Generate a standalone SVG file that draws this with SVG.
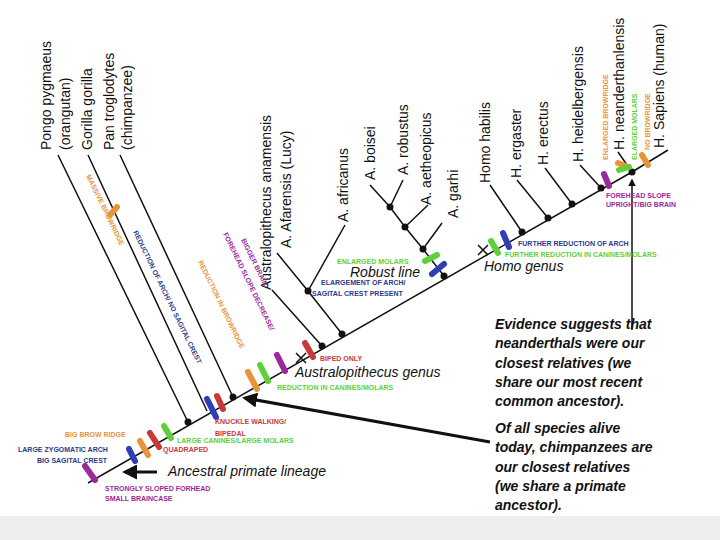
<svg xmlns="http://www.w3.org/2000/svg" width="720" height="540" viewBox="0 0 720 540">
<style>
.sp{font-family:"Liberation Sans",Arial,sans-serif;font-size:14px;fill:#111}
.it{font-family:"Liberation Sans",Arial,sans-serif;font-style:italic;font-size:14px;fill:#111}
.bi{font-family:"Liberation Sans",Arial,sans-serif;font-style:italic;font-weight:bold;font-size:14px;fill:#111}
.sm{font-family:"Liberation Sans",Arial,sans-serif;font-weight:bold;font-size:7px}
.ln{stroke:#111;stroke-width:1.5;fill:none}
.mk{stroke-width:6;stroke-linecap:round;fill:none}
.o{fill:#e8943a}.g{fill:#5fcf3a}.b{fill:#2d3fb8}.r{fill:#c83a3a}.p{fill:#9a2a9a}.n{fill:#2a3a8a}
.so{stroke:#e8943a}.sg{stroke:#5fcf3a}.sb{stroke:#2d3fb8}.sr{stroke:#c83a3a}.spp{stroke:#9a2a9a}
.nd{fill:#111}
</style>
<defs><marker id="ah" viewBox="0 0 10 10" refX="8" refY="5" markerWidth="5" markerHeight="5" orient="auto"><path d="M0,0L10,5L0,10z" fill="#111"/></marker></defs>
<rect width="720" height="540" fill="#fff"/>
<rect x="0" y="516" width="720" height="24" fill="#eceef0"/>
<g id="connectors">
<path class="ln" d="M88,483L632,172"/>
<path class="ln" d="M188,422L58,155M207,411L88,155M233,397L120,155"/>
<path class="ln" d="M322,346L272,290M342,334L308,291L277,253M308,291L345,225"/>
<path class="ln" d="M444,276L423,249L442,223M423,249L405,227L428,205M405,227L390,207L370,185M390,207L403,180"/>
<path class="ln" d="M522,232L490,185M548,218L517,180M572,204L545,168M601,188L580,165M632,172L618,152M632,172L668,150"/>
<path class="ln" d="M632,330L632,180" marker-end="url(#ah)"/>
<path d="M490,442L245,398" stroke="#111" stroke-width="3" marker-end="url(#ah)"/>
<path d="M157,472L125,472" stroke="#111" stroke-width="3" marker-end="url(#ah)"/>
<path class="ln" d="M296,353l10,10M306,353l-10,10M478,245l10,10M488,245l-10,10"/>
</g>
<g id="nodes">
<circle class="nd" cx="188" cy="422" r="3.5"/><circle class="nd" cx="233" cy="397" r="3.5"/>
<circle class="nd" cx="322" cy="346" r="3.5"/><circle class="nd" cx="342" cy="334" r="3.5"/>
<circle class="nd" cx="308" cy="291" r="3.5"/><circle class="nd" cx="444" cy="276" r="3.5"/>
<circle class="nd" cx="423" cy="249" r="3.5"/><circle class="nd" cx="405" cy="227" r="3.5"/>
<circle class="nd" cx="390" cy="207" r="3.5"/><circle class="nd" cx="522" cy="232" r="3.5"/>
<circle class="nd" cx="548" cy="218" r="3.5"/><circle class="nd" cx="572" cy="204" r="3.5"/>
<circle class="nd" cx="601" cy="188" r="3.5"/><circle class="nd" cx="632" cy="172" r="3.5"/>
</g>
<g id="marks">
<path class="mk spp" d="M85,466l10,14"/><path class="mk sb" d="M129,449l6,12"/><path class="mk so" d="M140,441l8,14"/>
<path class="mk sr" d="M150,433l9,14"/><path class="mk sg" d="M164,426l7,12"/><path class="mk sb" d="M207,399l9,18"/>
<path class="mk sr" d="M217,396l6,13"/><path class="mk so" d="M248,372l9,17"/><path class="mk sg" d="M260,365l8,16"/>
<path class="mk spp" d="M277,355l8,16"/><path class="mk sr" d="M305,343l8,14"/><path class="mk so" d="M110,215l7,-8"/>
<path class="mk sg" d="M425,261l12,-6"/><path class="mk sb" d="M432,274l12,-10"/><path class="mk sg" d="M491,241l7,12"/>
<path class="mk sb" d="M503,233l6,14"/><path class="mk spp" d="M604,174l5,12"/><path class="mk so" d="M618,163l10,4"/>
<path class="mk sg" d="M619,170l10,-3"/><path class="mk so" d="M642,155l6,10"/>
</g>
<g id="labels">
<text class="sp" transform="translate(51,150) rotate(-90)">Pongo pygmaeus</text>
<text class="sp" transform="translate(70,150) rotate(-90)">(orangutan)</text>
<text class="sp" transform="translate(92,150) rotate(-90)">Gorilla gorilla</text>
<text class="sp" transform="translate(114,150) rotate(-90)">Pan troglodytes</text>
<text class="sp" transform="translate(132,150) rotate(-90)">(chimpanzee)</text>
<text class="sp" transform="translate(271,290) rotate(-90)">Australopithecus anamensis</text>
<text class="sp" transform="translate(291,248) rotate(-90)">A. Afarensis (Lucy)</text>
<text class="sp" transform="translate(348,222) rotate(-90)">A. africanus</text>
<text class="sp" transform="translate(375,180) rotate(-90)">A. boisei</text>
<text class="sp" transform="translate(408,175) rotate(-90)">A. robustus</text>
<text class="sp" transform="translate(431,205) rotate(-90)">A. aetheopicus</text>
<text class="sp" transform="translate(458,218) rotate(-90)">A. garhi</text>
<text class="sp" transform="translate(490,183) rotate(-90)">Homo habilis</text>
<text class="sp" transform="translate(521,178) rotate(-90)">H. ergaster</text>
<text class="sp" transform="translate(548,165) rotate(-90)">H. erectus</text>
<text class="sp" transform="translate(583,162) rotate(-90)">H. heidelbergensis</text>
<text class="sp" transform="translate(624,150) rotate(-90)">H. neanderthanlensis</text>
<text class="sp" transform="translate(664,148) rotate(-90)">H. Sapiens (human)</text>
<text class="sm o" transform="translate(608,160) rotate(-90)">ENLARGED BROWRIDGE</text>
<text class="sm g" transform="translate(637,160) rotate(-90)">ELARGED MOLARS</text>
<text class="sm o" transform="translate(650,150) rotate(-90)">NO BROWRIDGE</text>
<text class="sm o" transform="translate(86,176) rotate(64)">MASSIVE BROWRIDGE</text>
<text class="sm n" transform="translate(133,232) rotate(64)">REDUCTION OF ARCH/ NO SAGITAL CREST</text>
<text class="sm o" transform="translate(198,262) rotate(64)">REDUCTION IN BROWRIDGE</text>
<text class="sm p" transform="translate(223,234) rotate(64)">FOREHEAD SLOPE DECREASE/</text>
<text class="sm p" transform="translate(241,240) rotate(64)">BIGGER BRAIN</text>
<text class="sm o" x="65" y="437">BIG BROW RIDGE</text>
<text class="sm n" x="18" y="452">LARGE ZYGOMATIC ARCH</text>
<text class="sm n" x="37" y="463">BIG SAGITAL CREST</text>
<text class="sm p" x="105" y="491">STRONGLY SLOPED FORHEAD</text>
<text class="sm p" x="105" y="501">SMALL BRAINCASE</text>
<text class="sm r" x="163" y="452">QUADRAPED</text>
<text class="sm g" x="177" y="443">LARGE CANINES/LARGE MOLARS</text>
<text class="sm r" x="215" y="424">KNUCKLE WALKING/</text>
<text class="sm r" x="215" y="436">BIPEDAL</text>
<text class="sm g" x="277" y="390">REDUCTION IN CANINES/MOLARS</text>
<text class="sm r" x="320" y="361">BIPED ONLY</text>
<text class="sm g" x="337" y="264">ENLARGED MOLARS</text>
<text class="sm n" x="321" y="285">ELARGEMENT OF ARCH/</text>
<text class="sm n" x="312" y="296">SAGITAL CREST PRESENT</text>
<text class="sm n" x="518" y="246">FURTHER REDUCTION OF ARCH</text>
<text class="sm g" x="505" y="257">FURTHER REDUCTION IN CANINES/MOLARS</text>
<text class="sm p" x="606" y="198">FOREHEAD SLOPE</text>
<text class="sm p" x="606" y="207">UPRIGHT/BIG BRAIN</text>
<text class="it" x="350" y="277">Robust line</text>
<text class="it" x="484" y="271">Homo genus</text>
<text class="it" x="295" y="377">Australopithecus genus</text>
<text class="it" x="168" y="476">Ancestral primate lineage</text>
<text class="bi" x="495" y="329">Evidence suggests that</text>
<text class="bi" x="495" y="348">neanderthals were our</text>
<text class="bi" x="495" y="368">closest relatives (we</text>
<text class="bi" x="495" y="387">share our most recent</text>
<text class="bi" x="495" y="406">common ancestor).</text>
<text class="bi" x="495" y="433">Of all species alive</text>
<text class="bi" x="495" y="452">today, chimpanzees are</text>
<text class="bi" x="495" y="472">our closest relatives</text>
<text class="bi" x="495" y="491">(we share a primate</text>
<text class="bi" x="495" y="510">ancestor).</text>
</g>
</svg>
